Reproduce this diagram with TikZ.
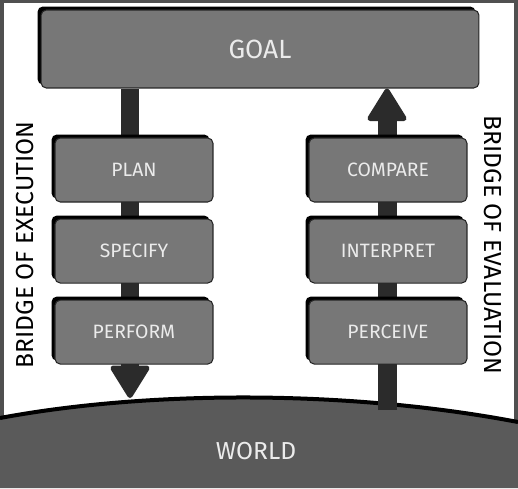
\documentclass[tikz,border=0pt]{standalone}
\usepackage{fontspec}
\setmainfont{Fira Sans}
\usetikzlibrary{arrows.meta,shadows,positioning,backgrounds}
\definecolor{framegray}{HTML}{505050}
\definecolor{boxgray}{HTML}{777777}
\definecolor{worldgray}{HTML}{5A5A5A}
\definecolor{shaftgray}{HTML}{2B2B2B}
\begin{document}
\begin{tikzpicture}[x=0.02cm,y=-0.02cm,
  stage/.style={draw=black!85,line width=0.6pt,fill=boxgray,rounded corners=3pt,
    minimum width=3.16cm,minimum height=1.28cm,text=white!92!black,
    font=\fontsize{11}{13}\selectfont,
    drop shadow={shadow xshift=-0.07cm,shadow yshift=0.07cm,fill=black,opacity=1}},
  shaft/.style={line width=0.38cm,draw=shaftgray,
    -{Triangle[width=0.84cm,length=0.7cm,line width=3pt,round,fill=shaftgray]}},
  bridge/.style={font=\fontsize{14}{16}\selectfont}]
\useasboundingbox (0,0) rectangle (518,488);
\node[stage,minimum width=8.76cm,minimum height=1.56cm,font=\fontsize{15}{18}\selectfont] (goal) at (260,49) {GOAL};
\node[stage] (plan) at (134,170) {PLAN};
\node[stage,below=0.32cm of plan] (specify) {SPECIFY};
\node[stage,below=0.32cm of specify] (perform) {PERFORM};
\node[stage] (compare) at (388,170) {COMPARE};
\node[stage,below=0.32cm of compare] (interpret) {INTERPRET};
\node[stage,below=0.32cm of interpret] (perceive) {PERCEIVE};
\node[text=white!92!black,font=\fontsize{14}{16}\selectfont] (world) at (256,451) {WORLD};
\node[bridge,rotate=90] (execution) at (25,245) {BRIDGE OF EXECUTION};
\node[bridge,rotate=-90] (evaluation) at (493,245) {BRIDGE OF EVALUATION};
\coordinate (exec) at (130,398);
\coordinate (eval) at (387,410);
\begin{scope}[on background layer]
\fill[framegray] (0,0) rectangle (518,488);
\fill[white] (4,3) rectangle (514,488);
\fill[worldgray] (0,418) .. controls (150,390) and (350,390) .. (518,422) -- (518,488) -- (0,488) -- cycle;
\draw[line width=0.08cm] (0,418) .. controls (150,390) and (350,390) .. (518,422);
\draw[shaft] (goal.south -| exec) -- (exec);
\draw[shaft] (eval) -- (eval |- goal.south);
\end{scope}
\end{tikzpicture}
\end{document}
